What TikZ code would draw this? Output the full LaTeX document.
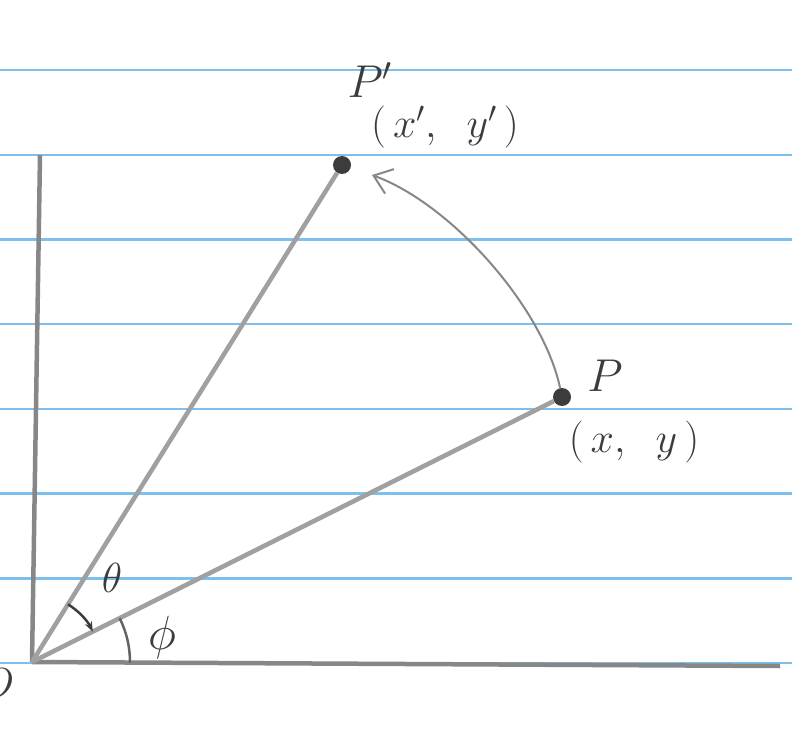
\RequirePackage{fix-cm}
\documentclass[tikz,border=0pt]{standalone}
\usepackage{amsmath}
\usepackage{tikz}
\usetikzlibrary{positioning}
\usetikzlibrary{angles}
\usetikzlibrary{arrows.meta}
\definecolor{ruling}{RGB}{125,192,235}
\definecolor{pencil}{RGB}{160,160,160}
\definecolor{axisgray}{RGB}{135,135,135}
\definecolor{lead}{RGB}{60,60,60}

\begin{document}
\begin{tikzpicture}[x=1pt, y=1pt, every node/.style={inner sep=0pt, text=lead}, dot/.style={circle, fill=lead, minimum size=18pt}, hand/.style={font=\fontsize{42}{50}\selectfont}]
	\useasboundingbox (0,0) rectangle (792,732);
	\foreach \k in {0,...,7}
		\draw[ruling, line width=2.5pt] (0,69+84.7*\k) -- (792,69+84.7*\k);
	\coordinate (O) at (32,70);
	\coordinate (yaxis) at (40,577);
	\coordinate (xaxis) at (780,66);
	\node[dot](Pp) at (342,567) {};
	\node[dot](P) at (562,335) {};
	\coordinate (tip) at (372,557);
	\draw[axisgray, line width=4.5pt] (O) -- (yaxis);
	\draw[axisgray, line width=4.5pt] (O) -- (xaxis);
	\draw[pencil, line width=4.5pt] (O) -- (Pp);
	\draw[pencil, line width=4.5pt] (O) -- (P);
	\draw[axisgray, line width=2pt, -{Straight Barb[length=17pt,width=26pt]}] (P) to[out=102, in=-20, looseness=0.75] (tip);
	\pic[draw=lead, line width=2.5pt, {Stealth[length=10pt]}-, angle radius=68pt] {angle = P--O--Pp};
	\pic[draw=lead!80, line width=2.5pt, angle radius=98pt] {angle = xaxis--O--P};
	\node[hand, font=\fontsize{46}{52}\selectfont](Pplabel) at (370,652) {$P'$};
	\node[hand](Ppcoord) at (445,605) {$(\,x',\;\;y'\,)$};
	\node[hand, font=\fontsize{46}{52}\selectfont](Plabel) at (605,356) {$P$};
	\node[hand](Pcoord) at (634,290) {$(\,x,\;\;y\,)$};
	\node[hand](theta) at (112,154) {$\theta$};
	\node[hand, font=\fontsize{48}{54}\selectfont](phi) at (162,95) {$\phi$};
	\node[hand](origin) at (-2,49) {$O$};
\end{tikzpicture}
\end{document}
